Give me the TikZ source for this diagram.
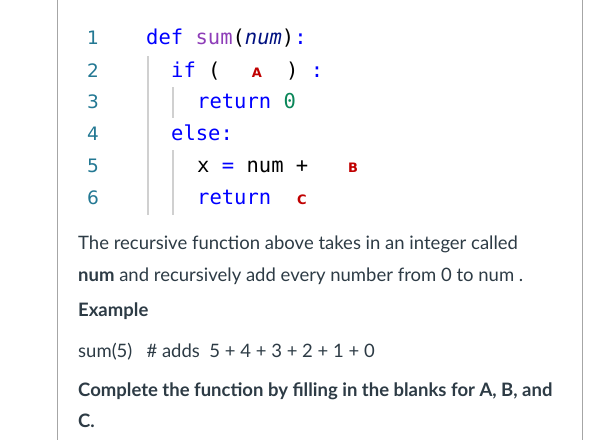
\documentclass[tikz,border=0pt]{standalone}
\usepackage{fontspec}
\setmainfont{Lato}
\newfontfamily\codefont{DejaVu Sans Mono}
\newfontfamily\lblfont{DejaVu Sans}
\definecolor{kw}{HTML}{0000FF}
\definecolor{fn}{HTML}{8E3DB8}
\definecolor{par}{HTML}{001080}
\definecolor{ln}{HTML}{237893}
\definecolor{num0}{HTML}{098658}
\definecolor{red0}{HTML}{C00000}
\definecolor{txt}{HTML}{2D3B45}
\definecolor{guide}{HTML}{D0D0D0}
\begin{document}
\begin{tikzpicture}[x=1pt,y=-1pt,
  code/.style={anchor=base west,inner sep=0,font=\codefont\fontsize{20.5}{20.5}\selectfont},
  lnum/.style={anchor=base,inner sep=0,text=ln,font=\lblfont\fontsize{18.5}{18.5}\selectfont},
  blank/.style={anchor=base,inner sep=0,text=red0,font=\lblfont\bfseries\fontsize{13}{13}\selectfont},
  body/.style={anchor=base west,inner sep=0,text=txt,font=\fontsize{18.5}{18.5}\selectfont},
  guideline/.style={draw=guide,line width=1.2pt}]
\useasboundingbox (0,0) rectangle (605,440);
\draw[draw=gray!70,line width=1pt] (57.5,0) -- (57.5,440) (582.5,0) -- (582.5,440);
\foreach \i/\y in {1/44,2/77,3/108,4/140,5/172,6/204}
  \node[lnum] (l\i) at (93,\y) {\i};
\node[code] (c1) at (146,44) {\textcolor{kw}{def} \textcolor{fn}{sum}(\textcolor{par}{\itshape num})\textcolor{kw}{:}};
\node[code] (c2) at (171,77) {\textcolor{kw}{if} (};
\node[blank] (A) at (257,77) {A};
\node[code] (c2b) at (286,77) {) \textcolor{kw}{:}};
\node[code] (c3) at (197,108) {\textcolor{kw}{return} \textcolor{num0}{0}};
\node[code] (c4) at (171,140) {\textcolor{kw}{else:}};
\node[code] (c5) at (197,172) {x \textcolor{kw}{=} num +};
\node[blank] (B) at (353,172) {B};
\node[code] (c6) at (197,204) {\textcolor{kw}{return}};
\node[blank] (C) at (302,204) {C};
\draw[guideline] (148,56) -- (148,215);
\draw[guideline] (173,87) -- (173,118) (173,150) -- (173,215);
\node[body] (t1) at (78,249) {The recursive function above takes in an integer called};
\node[body] (t2) at (78,281) {\textbf{num} and recursively add every number from 0 to num .};
\node[body] (t3) at (78,316) {\textbf{Example}};
\node[body] (t4) at (78,357) {sum(5) \ \ \# adds \ 5 + 4 + 3 + 2 + 1 + 0};
\node[body] (t5) at (78,396) {\textbf{Complete the function by filling in the blanks for A, B, and}};
\node[body] (t6) at (78,427) {\textbf{C.}};
\end{tikzpicture}
\end{document}
